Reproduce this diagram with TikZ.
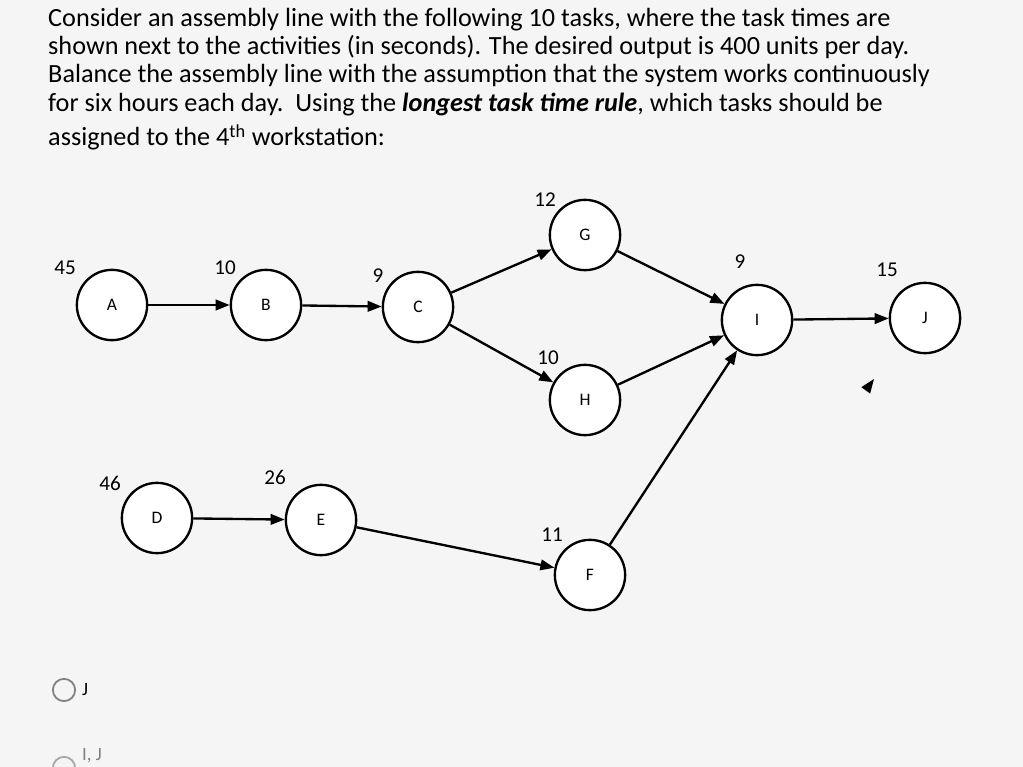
\documentclass[tikz,border=0pt]{standalone}
\usepackage{fontspec}
\setmainfont{Carlito}
\usetikzlibrary{arrows.meta}
\begin{document}
\begin{tikzpicture}[x=0.03cm,y=-0.03cm]
\tikzset{task/.style={circle,draw=black,line width=2pt,minimum size=60pt,inner sep=0pt,font=\fontsize{15}{17}\selectfont,fill=white},
 arr/.style={line width=2pt,-{Triangle[length=12pt,width=9pt]}},
 wt/.style={font=\fontsize{18}{20}\selectfont},
 q/.style={anchor=base west,font=\fontsize{22.4}{26}\selectfont,inner sep=0pt}}
\fill[gray!8] (0,0) rectangle (1023,767);
\useasboundingbox (0,0) rectangle (1023,767);
\node[q] (l1) at (48,27) {Consider an assembly line with the following 10 tasks, where the task times are};
\node[q] (l2) at (48,55) {shown next to the activities (in seconds). The desired output is 400 units per day.};
\node[q] (l3) at (48,83) {Balance the assembly line with the assumption that the system works continuously};
\node[q] (l4) at (48,112) {for six hours each day.\ \ Using the \textbf{\textit{longest task time rule}}, which tasks should be};
\node[q] (l5) at (48,146) {assigned to the 4\textsuperscript{th} workstation:};
\node[task] (A) at (112,305) {A};
\node[task] (B) at (266,305) {B};
\node[task] (C) at (418,307) {C};
\node[task] (G) at (585,235) {G};
\node[task] (H) at (585,400) {H};
\node[task] (I) at (757,320) {I};
\node[task] (J) at (925,318) {J};
\node[task] (D) at (157,518) {D};
\node[task] (E) at (321,520) {E};
\node[task] (F) at (590,575) {F};
\draw[arr] (A)--(B); \draw[arr] (B)--(C); \draw[arr] (C)--(G); \draw[arr] (C)--(H);
\draw[arr] (G)--(I); \draw[arr] (H)--(I); \draw[arr] (D)--(E); \draw[arr] (E)--(F);
\draw[arr] (F)--(I); \draw[arr] (I)--(J);
\node[wt] (w1) at (65,268) {45};
\node[wt] (w2) at (225,268) {10};
\node[wt] (w3) at (378,276) {9};
\node[wt] (w4) at (545,200) {12};
\node[wt] (w5) at (548,358) {10};
\node[wt] (w6) at (740,262) {9};
\node[wt] (w7) at (887,270) {15};
\node[wt] (w8) at (110,483) {46};
\node[wt] (w9) at (275,477) {26};
\node[wt] (w10) at (552,535) {11};
\coordinate (s1) at (866,390); \coordinate (s2) at (874,379);
\draw[arr,line width=1pt] (s1)--(s2);
\node[circle,draw=gray,line width=1.5pt,minimum size=19pt,inner sep=0pt] (r1) at (64,690) {};
\node[anchor=west,font=\fontsize{16}{18}\selectfont] (t1) at (78,690) {J};
\node[circle,draw=gray!70,line width=1.5pt,minimum size=19pt,inner sep=0pt] (r2) at (64,768) {};
\node[anchor=west,font=\fontsize{16}{18}\selectfont,text=gray] (t2) at (78,756) {I, J};
\end{tikzpicture}
\end{document}
